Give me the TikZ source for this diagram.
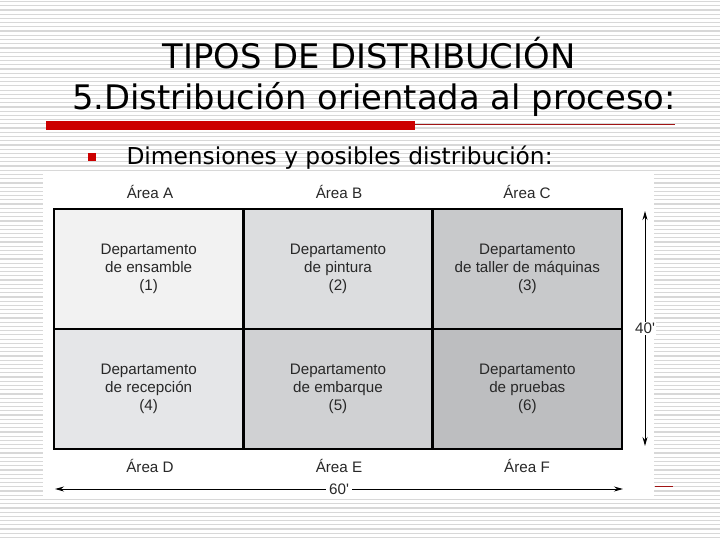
\documentclass[tikz,border=0pt]{standalone}
\usepackage{fontspec}
\setmainfont{DejaVu Sans}
\newfontfamily\figfont{Liberation Sans}
\usetikzlibrary{arrows.meta}
\definecolor{slidered}{RGB}{204, 0, 0}
\definecolor{ruledark}{RGB}{160, 20, 20}
\definecolor{stripe}{RGB}{216, 216, 216}
\definecolor{figtext}{RGB}{40, 40, 40}
\definecolor{deptone}{RGB}{242, 242, 242}
\definecolor{depttwo}{RGB}{220, 221, 223}
\definecolor{deptthree}{RGB}{200, 201, 203}
\definecolor{deptfour}{RGB}{229, 230, 232}
\definecolor{deptfive}{RGB}{208, 209, 211}
\definecolor{deptsix}{RGB}{189, 190, 192}

\begin{document}
\begin{tikzpicture}[x=1pt, y=-1pt, >={Stealth[length=9pt, width=5pt]},
        dept/.style={draw=black, line width=2.5pt, minimum width=189.3pt, minimum height=120pt,
                     inner sep=0pt, align=center, text=figtext, font=\figfont\fontsize{15.2}{18}\selectfont},
        area/.style={text=figtext, font=\figfont\fontsize{15.2}{18}\selectfont},
        dim/.style={line width=1pt, <->}]
            % Frame to ensure alignment:
            \useasboundingbox                                             (0, 0) rectangle (720, 540);
            \fill[white]                                                  (0, 0) rectangle (720, 540);
            \foreach \i in {0,...,127}
                \draw[stripe, line width=1.2pt]                           (0, 1.5+\i*4.22) -- (720, 1.5+\i*4.22);
            \fill[white]                                                  (43, 172) rectangle (654, 499);

            % Title and rule:
            \node[anchor=base, font=\fontsize{33.8}{40}\selectfont] (title)    at (369, 69)  {TIPOS DE DISTRIBUCIÓN};
            \node[anchor=base, font=\fontsize{33.8}{40}\selectfont] (subtitle) at (374, 110) {5.Distribución orientada al proceso:};
            \fill[slidered]                                               (46, 121) rectangle (415, 130);
            \draw[ruledark, line width=0.8pt]                             (415, 124) -- (675, 124);
            \draw[ruledark, line width=0.8pt]                             (655, 486) -- (673, 486);
            \fill[slidered]                                               (88, 153) rectangle (96, 161);
            \node[anchor=base west, font=\fontsize{23.3}{28}\selectfont] (bullet) at (123, 165) {Dimensiones y posibles distribución:};

            % Departments:
            \node[dept, fill=deptone]   (d1) at (148.7, 269) {Departamento\\de ensamble\\(1)};
            \node[dept, fill=depttwo]   (d2) at (338.0, 269) {Departamento\\de pintura\\(2)};
            \node[dept, fill=deptthree] (d3) at (527.3, 269) {Departamento\\de taller de máquinas\\(3)};
            \node[dept, fill=deptfour]  (d4) at (148.7, 389) {Departamento\\de recepción\\(4)};
            \node[dept, fill=deptfive]  (d5) at (338.0, 389) {Departamento\\de embarque\\(5)};
            \node[dept, fill=deptsix]   (d6) at (527.3, 389) {Departamento\\de pruebas\\(6)};

            \node[area] (aA) at (150, 192) {Área A};
            \node[area] (aB) at (339, 192) {Área B};
            \node[area] (aC) at (527, 192) {Área C};
            \node[area] (aD) at (150, 466) {Área D};
            \node[area] (aE) at (339, 466) {Área E};
            \node[area] (aF) at (527, 466) {Área F};

            % Dimensions:
            \coordinate (htop) at (645, 211);
            \coordinate (hbot) at (645, 446);
            \coordinate (wlft) at (55, 489);
            \coordinate (wrgt) at (623, 489);
            \draw[dim] (htop) -- node[area, fill=white, inner sep=1pt] (h) {40'} (hbot);
            \draw[dim] (wlft) -- node[area, fill=white, inner sep=3pt, pos=0.50] (w) {60'} (wrgt);
        \end{tikzpicture}
\end{document}
